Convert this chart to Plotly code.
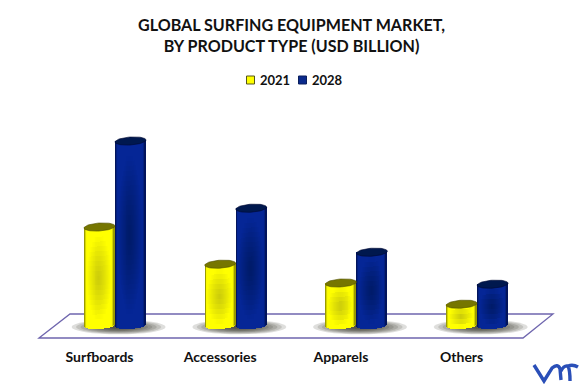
import numpy as np
import plotly.graph_objects as go

categories = ["Surfboards", "Accessories", "Apparels", "Others"]
series_names = ["2021", "2028"]
values_2021 = [2.45, 1.52, 1.05, 0.52]
values_2028 = [4.60, 2.92, 1.82, 1.02]
title_text = "GLOBAL SURFING EQUIPMENT MARKET,<br>BY PRODUCT TYPE (USD BILLION)"

FONT = "Lato"
W, H = 581.0, 386.0
PLOT_TOP, PLOT_BOTTOM = 100.0, 345.0
PX_X = 120.7          # pixels per category step
PX_Y = 40.0           # pixels per value unit
HW = 15.5 / PX_X      # half width of a cylinder in x units
OFF = 15.5 / PX_X     # group offset
EH = 4.0 / PX_Y       # half height of the end ellipses
TILT = 1.0 / PX_Y     # rise of the ellipses to the right
N_STRIPS = 31
SEG = 5.0 / PX_Y

YEL = dict(dark=(80, 80, 0), bright=(255, 255, 0), mid=(205, 205, 10), top=(118, 118, 0))
BLU = dict(dark=(0, 8, 50), bright=(5, 38, 150), mid=(0, 27, 105), top=(0, 24, 78))


def mix(a, b, t):
    return tuple(a[i] + (b[i] - a[i]) * t for i in range(3))


def shade(p, t, v):
    # horizontal edge falloff plus soft dark centre
    r = min(1.0, np.hypot(t / 0.8, (v - 0.5) / 0.42))
    c = mix(p["mid"], p["bright"], r ** 1.2)
    e = max(0.0, (abs(t) - 0.8) / 0.2)
    c = mix(c, p["dark"], e ** 1.5)
    return "rgb(%d,%d,%d)" % c


def x0(px):
    return (px - 115) / PX_X


def y0(py):
    return (325 - py) / PX_Y


def py(p):
    return (PLOT_BOTTOM - p) / (PLOT_BOTTOM - PLOT_TOP)


fig = go.Figure()
xs = np.arange(len(categories), dtype=float)

# floor
floor_px = [(39, 338), (70, 314), (553, 314), (523, 338)]
path = "M " + " L ".join(f"{x0(a):.4f},{y0(b):.4f}" for a, b in floor_px) + " Z"
shapes = [dict(type="path", path=path, xref="x", yref="y", layer="below",
               line=dict(color="#6F66AE", width=1.3), fillcolor="white")]

# soft ground shadows
for x in xs:
    for k in range(10):
        f = 1 - k / 10
        hw = (44 * f + 3) / PX_X
        hh = (6.5 * f + 0.8) / PX_Y
        cx = x + 0.03
        cy = y0(327)
        shapes.append(dict(type="circle", xref="x", yref="y", layer="below",
                           x0=cx - hw, x1=cx + hw, y0=cy - hh, y1=cy + hh,
                           line=dict(width=0), fillcolor="rgba(50,50,40,0.16)"))

# cylinders
for name, vals, off, pal in [(series_names[0], values_2021, -OFF, YEL),
                             (series_names[1], values_2028, OFF, BLU)]:
    fig.add_trace(go.Bar(x=xs + off, y=vals, width=2 * HW, name=name,
                         marker=dict(color="rgb(%d,%d,%d)" % pal["bright"], line=dict(width=0)),
                         hoverinfo="skip", showlegend=False))
    for x, val in zip(xs + off, vals):
        ts = np.linspace(-1, 1, N_STRIPS + 2)[1:-1]
        sx, sb, sy, sc = [], [], [], []
        for t in ts:
            bottom = -EH * np.sqrt(1 - t * t) + TILT * t
            top = val + TILT * t
            n = max(2, int(np.ceil((top - bottom) / SEG)))
            edges = np.linspace(bottom, top, n + 1)
            for i in range(n):
                sx.append(x + t * HW)
                sb.append(edges[i])
                sy.append(edges[i + 1] - edges[i])
                sc.append(shade(pal, t, (i + 0.5) / n))
        fig.add_trace(go.Bar(x=sx, y=sy, base=sb, width=HW * 2 / N_STRIPS * 1.25,
                             marker=dict(color=sc, line=dict(width=0)),
                             hoverinfo="skip", showlegend=False))
        a = np.linspace(0, 2 * np.pi, 60)
        fig.add_trace(go.Scatter(x=x + HW * np.cos(a),
                                 y=val + EH * np.sin(a) + TILT * np.cos(a),
                                 mode="lines", fill="toself",
                                 fillcolor="rgb(%d,%d,%d)" % pal["top"],
                                 line=dict(color="rgb(%d,%d,%d)" % pal["dark"], width=0.6),
                                 hoverinfo="skip", showlegend=False))

annotations = [
    dict(text=title_text, x=291 / W, y=py(35), xref="paper", yref="paper",
         xanchor="center", yanchor="middle", showarrow=False,
         font=dict(family=FONT, size=16.1, color="#111111", weight="bold")),
]
for name, tx in zip(series_names, [258, 310]):
    annotations.append(dict(text=name, x=tx / W, y=py(79.5), xref="paper", yref="paper",
                            xanchor="left", yanchor="middle", showarrow=False,
                            font=dict(family=FONT, size=13, color="#111111", weight="bold")))

# legend keys
for px0, color, edge in [(246.5, "#FFFF00", "#55551a"), (298.5, "#0A2A8C", "#0A1F5C")]:
    shapes.append(dict(type="rect", xref="paper", yref="paper",
                       x0=px0 / W, x1=(px0 + 8) / W, y0=py(84), y1=py(76),
                       line=dict(color=edge, width=1), fillcolor=color))


# logo
def P(p):
    return f"{p[0] / W:.4f},{py(p[1]):.4f}"


lp = ("M " + P((534, 365)) + " L " + P((544, 381)) + " L " + P((552, 368)) +
      " Q " + P((558, 363)) + " " + P((560, 369)) + " L " + P((561, 380)) +
      " M " + P((561, 371)) + " Q " + P((564, 365)) + " " + P((568, 366)) +
      " Q " + P((570, 370)) + " " + P((570, 381)) +
      " M " + P((568, 366)) + " Q " + P((573, 364)) + " " + P((578, 367)))
shapes.append(dict(type="path", path=lp, xref="paper", yref="paper",
                   line=dict(color="#2A4FB8", width=3.4), fillcolor="rgba(0,0,0,0)"))

fig.update_layout(
    width=581, height=386, autosize=False,
    margin=dict(l=0, r=0, t=PLOT_TOP, b=H - PLOT_BOTTOM),
    paper_bgcolor="white", plot_bgcolor="white",
    barmode="overlay", showlegend=False, bargap=0,
    xaxis=dict(range=[x0(0), x0(581)], tickmode="array", tickvals=list(xs - 15.5 / PX_X), ticktext=categories,
               showgrid=False, zeroline=False, showline=False, ticks="",
               ticklabelstandoff=2,
               tickfont=dict(family=FONT, size=14, color="#111111", weight="bold")),
    yaxis=dict(range=[y0(PLOT_BOTTOM), y0(PLOT_TOP)], visible=False, showgrid=False, zeroline=False),
    annotations=annotations,
    shapes=shapes,
)

fig.write_html("out.html", config=dict(displayModeBar=False),
               post_script="document.body.style.margin='0';document.documentElement.style.overflow='hidden';")
